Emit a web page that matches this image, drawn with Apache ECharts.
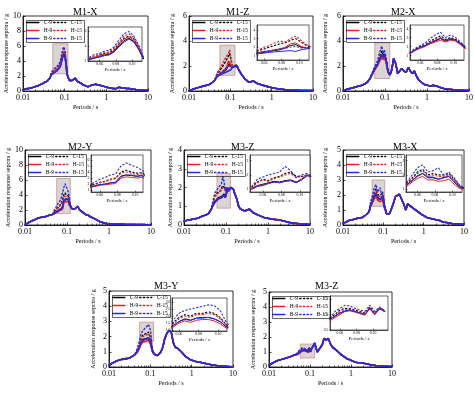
<!DOCTYPE html>
<html><head><meta charset="utf-8">
<script src="https://cdn.jsdelivr.net/npm/echarts@6/dist/echarts.min.js"></script>
<style>html,body{margin:0;padding:0;background:#fff}#c{width:474px;height:395px}</style>
</head><body><div id="c"></div>
<script>
// ---------- DATA ----------
const seriesNames = ['C-9','C-15','H-9','H-15','B-9','B-15'];
const legendLeftCol = ['C-9','H-9','B-9'];
const legendRightCol = ['C-15','H-15','B-15'];
const panelTitles = ['M1-X','M1-Z','M2-X','M2-Y','M3-Z','M3-X','M3-Y','M3-Z'];
const yAxisName = 'Acceleration response sepctra / g';
const xAxisName = 'Periods / s';
const mainXLabels = [0.01, 0.1, 1, 10];
const insetXLabels = [0.06, 0.08, 0.10];

// periods (s)
const preT  = [0.01,0.012,0.014,0.017,0.02,0.023,0.026,0.03,0.034,0.038,0.042,0.045];
const winT  = [0.048,0.054,0.06,0.066,0.072,0.078,0.084,0.09,0.096,0.102,0.108,0.114];
const postT = [0.12,0.13,0.14,0.15,0.16,0.18,0.2,0.22,0.25,0.28,0.32,0.36,0.4,0.45,0.5,0.56,0.63,0.7,0.8,0.9,1,1.2,1.4,1.7,2,2.5,3,4,5,6.5,8,10];

// M1-X
const m1xPre  = [0.15,0.3,0.35,0.45,0.6,0.7,0.85,1.0,1.2,1.3,1.5,1.8];
const m1xPost = [1.9,1.4,1.2,1.4,1.3,1.7,1.3,1.1,1.0,0.8,0.7,0.55,0.6,0.8,1.0,0.9,0.8,0.9,0.7,0.6,0.6,0.4,0.35,0.3,0.5,0.4,0.35,0.3,0.2,0.15,0.1,0.08];
const m1xC9  = [2.2,2.4,2.6,2.8,2.9,3.3,4.0,4.7,5.0,4.6,3.6,2.2];
const m1xC15 = [2.3,2.5,2.8,3.0,3.1,3.5,4.3,5.0,5.3,4.9,3.8,2.3];
const m1xH9  = [2.3,2.5,2.7,2.9,3.0,3.4,4.2,4.9,5.2,4.8,3.8,2.3];
const m1xH15 = [2.4,2.7,2.9,3.1,3.2,3.7,4.5,5.3,5.6,5.1,4.0,2.4];
const m1xB9  = [2.2,2.4,2.5,2.7,2.8,3.2,3.9,4.5,4.9,4.5,3.5,2.2];
const m1xB15 = [2.5,2.9,3.0,3.3,3.4,3.9,4.8,5.6,5.9,5.3,4.1,2.5];
const m1xBox = [0.052,0.12,2.3,6.3];

// M1-Z
const m1zPre  = [0.02,0.12,0.2,0.28,0.35,0.4,0.45,0.5,0.6,0.7,0.85,1.0];
const m1zPost = [1.9,2.0,2.1,1.9,1.7,1.4,1.2,1.0,0.85,0.7,0.75,0.8,0.7,0.6,0.55,0.5,0.45,0.4,0.35,0.3,0.27,0.22,0.18,0.15,0.12,0.1,0.08,0.06,0.05,0.04,0.03,0.03];
const m1zC9  = [1.2,1.3,1.4,1.5,1.6,1.7,1.9,2.2,2.3,2.0,1.9,1.9];
const m1zC15 = [1.4,1.6,1.8,2.0,2.2,2.4,2.5,2.8,3.0,2.6,2.2,2.0];
const m1zH9  = [1.25,1.35,1.5,1.55,1.7,1.8,2.0,2.4,2.5,2.1,1.9,1.95];
const m1zH15 = [1.5,1.7,2.0,2.2,2.5,2.7,2.6,3.0,3.3,2.8,2.3,2.0];
const m1zB9  = [1.15,1.25,1.3,1.4,1.45,1.5,1.55,1.6,1.5,1.7,1.8,1.9];
const m1zB15 = [1.3,1.4,1.5,1.6,1.7,1.8,1.9,2.0,2.1,1.9,2.0,2.0];
const m1zBox = [0.056,0.13,1.26,3.67];

// M2-X
const m2xPre  = [0.02,0.12,0.18,0.25,0.32,0.38,0.42,0.5,0.6,0.7,0.85,1.05];
const m2xPost = [1.5,1.3,1.5,2.0,2.6,2.2,1.4,1.5,1.8,1.6,1.5,1.9,1.6,1.4,1.6,1.2,0.9,0.75,0.6,0.5,0.45,0.4,0.45,0.4,0.3,0.2,0.15,0.12,0.1,0.07,0.05,0.04];
const m2xC9  = [1.25,1.6,1.9,2.1,2.4,2.6,2.9,2.6,2.8,2.7,2.3,1.8];
const m2xC15 = [1.3,1.7,2.0,2.2,2.6,2.9,3.2,2.8,3.0,2.8,2.4,1.9];
const m2xH9  = [1.2,1.55,1.8,2.0,2.3,2.5,2.7,2.5,2.7,2.6,2.2,1.7];
const m2xH15 = [1.25,1.6,1.9,2.1,2.5,2.8,3.0,2.7,2.9,2.7,2.3,1.8];
const m2xB9  = [1.25,1.6,1.9,2.1,2.4,2.7,2.9,2.7,2.9,2.7,2.3,1.8];
const m2xB15 = [1.35,1.8,2.1,2.4,2.9,3.3,3.6,3.0,3.3,3.0,2.5,1.9];
const m2xBox = [0.057,0.13,1.0,3.86];

// M2-Y
const m2yPre  = [0.05,0.3,0.5,0.7,0.9,1.0,1.05,1.1,1.2,1.3,1.35,1.4];
const m2yPost = [2.6,2.2,2.0,2.1,2.3,2.5,2.0,1.8,1.6,1.4,1.3,1.1,1.0,0.85,0.7,0.55,0.4,0.3,0.25,0.2,0.15,0.12,0.12,0.1,0.1,0.08,0.07,0.06,0.05,0.05,0.04,0.04];
const m2yC9  = [1.5,1.7,1.9,2.0,2.2,2.3,3.3,3.5,3.4,3.3,3.4,2.8];
const m2yC15 = [1.7,2.0,2.3,2.5,2.8,3.0,4.0,4.3,4.0,3.8,3.9,3.1];
const m2yH9  = [1.4,1.6,1.8,1.9,2.0,2.1,3.0,3.2,3.1,3.0,3.1,2.6];
const m2yH15 = [1.6,1.9,2.2,2.4,2.7,2.9,3.8,4.0,3.8,3.6,3.7,3.0];
const m2yB9  = [1.5,1.7,1.9,2.0,2.2,2.3,3.3,3.5,3.5,3.3,3.4,2.8];
const m2yB15 = [1.8,2.3,2.8,3.1,3.5,3.7,5.0,5.5,5.1,4.8,4.3,3.5];
const m2yBox = [0.057,0.12,1.55,6.2];

// M3-Z (row 2)
const m3zPre  = [0.2,0.25,0.28,0.32,0.35,0.4,0.45,0.5,0.55,0.6,0.7,0.85];
const m3zPost = [1.85,2.0,1.9,1.9,1.7,1.4,1.0,0.85,0.8,0.75,0.8,0.85,0.75,0.65,0.6,0.55,0.5,0.45,0.4,0.38,0.35,0.32,0.3,0.28,0.25,0.2,0.15,0.1,0.08,0.05,0.04,0.03];
const m3zC9  = [1.05,1.25,1.35,1.45,1.55,1.5,1.6,1.65,1.5,1.7,2.0,1.85];
const m3zC15 = [1.15,1.5,1.7,1.6,1.8,1.9,2.1,2.2,1.9,1.9,2.0,1.9];
const m3zH9  = [1.0,1.2,1.3,1.4,1.5,1.45,1.55,1.6,1.45,1.65,1.95,1.8];
const m3zH15 = [1.1,1.45,1.65,1.55,1.75,1.85,2.0,2.1,1.85,1.85,2.0,1.85];
const m3zB9  = [1.0,1.2,1.25,1.4,1.5,1.45,1.55,1.6,1.45,1.65,1.95,1.8];
const m3zB15 = [1.2,1.7,1.85,2.0,2.1,2.2,2.6,2.3,1.8,2.0,2.1,1.9];
const m3zBox = [0.061,0.127,0.9,2.75];

// M3-X
const m3xPre  = [0.1,0.2,0.3,0.35,0.4,0.45,0.48,0.5,0.6,0.7,0.8,0.95];
const m3xPost = [0.75,0.7,0.75,0.9,1.1,1.5,1.9,2.0,2.05,2.0,1.4,1.0,1.4,1.3,1.2,1.1,1.0,0.9,0.8,0.7,0.6,0.5,0.45,0.4,0.35,0.3,0.2,0.15,0.1,0.08,0.06,0.05];
const m3xC9  = [1.3,1.6,1.9,2.1,1.8,1.8,1.7,1.8,1.9,1.5,1.15,1.0];
const m3xC15 = [1.4,1.8,2.2,2.4,2.0,2.1,2.0,2.0,2.1,1.7,1.25,1.05];
const m3xH9  = [1.2,1.5,1.75,1.9,1.65,1.65,1.55,1.6,1.7,1.35,1.05,0.95];
const m3xH15 = [1.35,1.7,2.1,2.3,1.9,2.0,1.9,1.9,2.0,1.6,1.2,1.0];
const m3xB9  = [1.3,1.6,1.95,2.1,1.85,1.85,1.7,1.8,1.9,1.5,1.15,1.0];
const m3xB15 = [1.5,2.0,2.5,2.7,2.2,2.3,2.5,2.0,2.2,1.8,1.3,1.05];
const m3xBox = [0.053,0.108,1.25,3.0];

// M3-Y
const m3yPre  = [0.1,0.25,0.35,0.45,0.5,0.52,0.55,0.58,0.65,0.72,0.8,0.9];
const m3yPost = [0.9,0.8,0.75,0.75,0.8,1.0,1.3,1.8,2.2,2.4,2.3,1.6,1.3,1.25,1.2,1.0,0.85,0.7,0.6,0.5,0.45,0.38,0.33,0.3,0.25,0.2,0.15,0.1,0.08,0.05,0.03,0.02];
const m3yC9  = [1.0,1.3,1.6,1.8,1.7,1.85,1.9,1.9,1.8,1.6,1.25,1.0];
const m3yC15 = [1.1,1.5,1.9,2.1,2.0,2.2,2.2,2.3,2.2,1.9,1.4,1.05];
const m3yH9  = [0.95,1.2,1.5,1.65,1.55,1.7,1.75,1.75,1.65,1.45,1.15,0.95];
const m3yH15 = [1.05,1.4,1.8,2.0,1.9,2.1,2.1,2.2,2.1,1.8,1.35,1.0];
const m3yB9  = [1.0,1.3,1.6,1.75,1.7,1.85,1.85,1.9,1.8,1.6,1.25,1.0];
const m3yB15 = [1.2,1.7,2.2,2.4,2.5,2.6,2.7,2.8,2.75,2.4,1.6,1.1];
const m3yBox = [0.055,0.12,1.65,2.95];

// M3-Z (row 3)
const m3z2Pre  = [0.1,0.25,0.35,0.45,0.5,0.55,0.6,0.65,0.7,0.75,0.8,0.85];
const m3z2Post = [1.4,1.6,1.3,1.0,1.1,1.3,1.5,1.9,1.8,1.9,1.5,1.3,1.2,1.1,1.0,0.85,0.75,0.65,0.55,0.5,0.45,0.35,0.3,0.28,0.25,0.2,0.15,0.1,0.08,0.05,0.04,0.03];
const m3z2C9  = [0.85,0.95,1.05,1.1,1.15,1.1,1.05,1.0,1.2,1.0,1.2,1.1];
const m3z2C15 = [0.9,1.0,1.15,1.2,1.2,1.15,1.1,1.05,1.25,1.05,1.22,1.1];
const m3z2H9  = [0.8,0.9,1.0,1.1,1.12,1.08,1.03,0.98,1.18,1.0,1.18,1.1];
const m3z2H15 = [0.85,0.95,1.1,1.15,1.18,1.12,1.08,1.02,1.22,1.03,1.2,1.1];
const m3z2B9  = [0.85,0.95,1.05,1.12,1.15,1.1,1.05,1.0,1.2,1.02,1.2,1.1];
const m3z2B15 = [0.9,1.1,1.2,1.3,1.28,1.2,1.15,1.1,1.3,1.1,1.25,1.12];
const m3z2Box = [0.058,0.13,0.6,1.53];

// main y axis max / interval, inset ranges and tick labels
const mainYMax = [10,6,6,10,4,5,5,5];
const mainYInt = [2,2,2,2,1,1,1,1];
const insetXRange = [[0.046,0.112],[0.052,0.111],[0.048,0.112],[0.05,0.109],[0.046,0.111],[0.047,0.111],[0.053,0.109],[0.048,0.118]];
const insetYRange = [[2,6.5],[0.5,4.6],[0.5,4.4],[0.7,6.8],[0.8,3.4],[0.8,3.4],[0.93,3.29],[0.5,1.6]];
const insetYLabels = [[2,4,6],[1,2,3,4],[1,2,3,4],[1,2,3,4,5,6],[1,2,3],[1,2,3],[1.0,1.5,2.0,2.5,3.0],[0.5,1.0,1.5]];
const insetYDecimals = [0,0,0,0,0,0,1,1];

const panelData = [
  [m1xPre,m1xPost,[m1xC9,m1xC15,m1xH9,m1xH15,m1xB9,m1xB15],m1xBox],
  [m1zPre,m1zPost,[m1zC9,m1zC15,m1zH9,m1zH15,m1zB9,m1zB15],m1zBox],
  [m2xPre,m2xPost,[m2xC9,m2xC15,m2xH9,m2xH15,m2xB9,m2xB15],m2xBox],
  [m2yPre,m2yPost,[m2yC9,m2yC15,m2yH9,m2yH15,m2yB9,m2yB15],m2yBox],
  [m3zPre,m3zPost,[m3zC9,m3zC15,m3zH9,m3zH15,m3zB9,m3zB15],m3zBox],
  [m3xPre,m3xPost,[m3xC9,m3xC15,m3xH9,m3xH15,m3xB9,m3xB15],m3xBox],
  [m3yPre,m3yPost,[m3yC9,m3yC15,m3yH9,m3yH15,m3yB9,m3yB15],m3yBox],
  [m3z2Pre,m3z2Post,[m3z2C9,m3z2C15,m3z2H9,m3z2H15,m3z2B9,m3z2B15],m3z2Box]
];

// ---------- LAYOUT / STYLE ----------
const F = '"Liberation Serif","Times New Roman",serif';
const layout = [
  {g:[23,16,125,75],  t:[80,8],   ng:10, ins:[88,27,54,34]},
  {g:[189,16,124,75], t:[233,8],  ng:14, ins:[257,25,52,35]},
  {g:[343,16,126,75], t:[398,8],  ng:15, ins:[410,25,54,35]},
  {g:[25,150,126,75], t:[75,143], ng:14, ins:[91,155,52,37]},
  {g:[184,150,126,75],t:[238,143],ng:11, ins:[250,155,60,37]},
  {g:[343,150,121,75],t:[400,143],ng:15, ins:[406,155,56,37]},
  {g:[109,291,124,76],t:[161,282],ng:13, ins:[172,298,55,33]},
  {g:[269,292,123,75],t:[322,282],ng:13, ins:[330,296,58,34]}
];
const sStyle = {
  'C-9':{c:'#000000',d:false},'C-15':{c:'#000000',d:true},
  'H-9':{c:'#e3242b',d:false},'H-15':{c:'#e3242b',d:true},
  'B-9':{c:'#2a2ad6',d:false},'B-15':{c:'#2a2ad6',d:true}
};
const txt = (s)=>({fontFamily:F,fontSize:s,color:'#000'});

const grid=[],xAxis=[],yAxis=[],series=[],title=[],legend=[],graphic=[];
layout.forEach((L,p)=>{
  const [pre,post,wins,box]=panelData[p];
  grid.push({left:L.g[0],top:L.g[1],width:L.g[2],height:L.g[3],show:true,borderColor:'#000',borderWidth:0.8,outerBoundsMode:'none',containLabel:false});
  grid.push({left:L.ins[0],top:L.ins[1],width:L.ins[2],height:L.ins[3],show:true,borderColor:'#000',borderWidth:0.6,backgroundColor:'#fff',outerBoundsMode:'none',containLabel:false});
  xAxis.push({type:'log',logBase:10,min:mainXLabels[0],max:mainXLabels[3],gridIndex:2*p,
    name:xAxisName,nameLocation:'middle',nameGap:13,nameTextStyle:txt(6),
    axisLine:{lineStyle:{color:'#000',width:0.8}},
    axisTick:{inside:true,length:2.5,lineStyle:{color:'#000',width:0.7}},
    minorTick:{show:true,splitNumber:9,length:1.5,lineStyle:{color:'#000',width:0.6}},
    axisLabel:{...txt(8),margin:3,formatter:(v)=>String(v)},splitLine:{show:false},minorSplitLine:{show:false}});
  xAxis.push({type:'value',min:insetXRange[p][0],max:insetXRange[p][1],gridIndex:2*p+1,
    name:xAxisName,nameLocation:'middle',nameGap:6,nameTextStyle:txt(5),
    axisLine:{lineStyle:{color:'#000',width:0.6}},
    axisTick:{inside:true,length:1.5,customValues:insetXLabels,lineStyle:{color:'#000',width:0.5}},
    axisLabel:{...txt(3.8),margin:1.5,customValues:insetXLabels,formatter:(v)=>v.toFixed(2)},splitLine:{show:false}});
  yAxis.push({type:'value',min:0,max:mainYMax[p],interval:mainYInt[p],gridIndex:2*p,
    name:yAxisName,nameLocation:'middle',nameGap:L.ng,nameRotate:90,nameTextStyle:txt(6),
    axisLine:{lineStyle:{color:'#000',width:0.8}},
    axisTick:{inside:true,length:2.5,lineStyle:{color:'#000',width:0.7}},
    axisLabel:{...txt(8),margin:2},splitLine:{show:false}});
  const dec = insetYDecimals[p];
  yAxis.push({type:'value',min:insetYRange[p][0],max:insetYRange[p][1],gridIndex:2*p+1,
    axisLine:{lineStyle:{color:'#000',width:0.6}},
    axisTick:{inside:true,length:1.5,customValues:insetYLabels[p],lineStyle:{color:'#000',width:0.5}},
    axisLabel:{...txt(3.8),margin:1.5,customValues:insetYLabels[p],formatter:(v)=>v.toFixed(dec)},splitLine:{show:false}});
  title.push({text:panelTitles[p],left:L.t[0]-12,top:L.t[1]-6,textStyle:{...txt(10),fontWeight:'normal'}});
  const legBase = {orient:'vertical',padding:0,itemGap:2,itemWidth:12,itemHeight:5,selectedMode:false,
    itemStyle:{opacity:0,borderWidth:0},lineStyle:{width:'inherit'},
    textStyle:{...txt(5.5),lineHeight:5}};
  legend.push({...legBase,left:L.g[0]+3,top:L.g[1]+3.5,data:legendLeftCol.slice()});
  legend.push({...legBase,left:L.g[0]+30,top:L.g[1]+3.5,data:legendRightCol.slice()});
  graphic.push({type:'rect',left:L.g[0]+1,top:L.g[1]+2,z:100,silent:true,
    shape:{width:58,height:22},style:{fill:'none',stroke:'#000',lineWidth:0.6}});
  seriesNames.forEach((n,k)=>{
    const st=sStyle[n];
    const ls={color:st.c,width:st.d?1.4:1.6,type:st.d?[1.3,2.4]:'solid',cap:'round'};
    const full = preT.map((t,i)=>[t,pre[i]]).concat(winT.map((t,i)=>[t,wins[k][i]]),postT.map((t,i)=>[t,post[i]]));
    const ms = {type:'line',name:n,xAxisIndex:2*p,yAxisIndex:2*p,data:full,symbol:'none',showSymbol:false,
      color:st.c,lineStyle:ls,silent:true,animation:false,z:2+k};
    if(k===0){
      ms.markArea={silent:true,itemStyle:{color:'rgba(185,178,178,0.55)',borderColor:'#c9908f',borderWidth:0.8},
        data:[[{coord:[box[0],box[2]]},{coord:[box[1],box[3]]}]]};
    }
    series.push(ms);
    series.push({type:'line',name:n,xAxisIndex:2*p+1,yAxisIndex:2*p+1,data:winT.map((t,i)=>[t,wins[k][i]]),
      symbol:'none',showSymbol:false,color:st.c,lineStyle:{...ls,width:st.d?1.1:1.0},silent:true,animation:false,z:20+k});
  });
});
const chart = echarts.init(document.getElementById('c'),null,{renderer:'canvas'});
chart.setOption({backgroundColor:'#fff',animation:false,title,legend,grid,xAxis,yAxis,series,graphic,tooltip:{show:false}});
</script></body></html>
